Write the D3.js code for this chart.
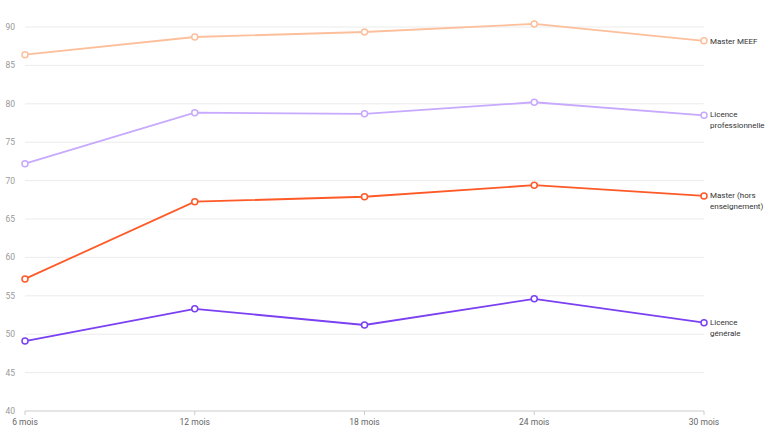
<!DOCTYPE html>
<html><head><meta charset="utf-8">
<script src="https://cdn.jsdelivr.net/npm/d3@7"></script>
<style>body{margin:0;background:#fff}svg{font-family:Roboto,sans-serif}</style>
</head><body><svg id="c" width="768" height="432"></svg>
<script>
const categories = ["6 mois","12 mois","18 mois","24 mois","30 mois"];
const seriesNames = [["Master MEEF"],["Licence","professionnelle"],["Master (hors","enseignement)"],["Licence","générale"]];
const masterMeef = [86.4, 88.7, 89.35, 90.4, 88.2];
const licencePro = [72.2, 78.85, 78.7, 80.2, 78.5];
const masterHors = [57.2, 67.25, 67.9, 69.4, 68.0];
const licenceGen = [49.1, 53.3, 51.2, 54.6, 51.5];
const yTicks = [40,45,50,55,60,65,70,75,80,85,90];
const colors = ["#fdbf9b","#c7a9fd","#fe5a27","#7a40f2"];
const series = [masterMeef, licencePro, masterHors, licenceGen];

const svg = d3.select("#c");
const x = d3.scalePoint().domain(categories).range([25,704]);
const y = d3.scaleLinear().domain([40,90]).range([411,27]);

svg.append("g").selectAll("line").data(yTicks).join("line")
  .attr("x1",25).attr("x2",704).attr("y1",d=>y(d)).attr("y2",d=>y(d))
  .attr("stroke",d=>d===40?"#ccc":"#ebebeb").attr("stroke-width",1);
svg.append("g").selectAll("text").data(yTicks).join("text")
  .attr("x",15).attr("y",d=>y(d)+3).attr("text-anchor","end")
  .attr("font-size",8.5).attr("fill","#999").text(d=>d);
svg.append("g").selectAll("text").data(categories).join("text")
  .attr("x",d=>x(d)).attr("y",425).attr("text-anchor","middle")
  .attr("font-size",8.5).attr("fill","#666").text(d=>d);
svg.append("g").selectAll("line").data(categories).join("line")
  .attr("x1",d=>x(d)).attr("x2",d=>x(d)).attr("y1",411).attr("y2",415).attr("stroke","#ccc");

const line = d3.line().x((d,i)=>x(categories[i])).y(d=>y(d));
series.forEach((s,k)=>{
  svg.append("path").datum(s).attr("d",line).attr("fill","none")
    .attr("stroke",colors[k]).attr("stroke-width",1.8);
  svg.append("g").selectAll("circle").data(s).join("circle")
    .attr("cx",(d,i)=>x(categories[i])).attr("cy",d=>y(d)).attr("r",3)
    .attr("fill","#fff").attr("stroke",colors[k]).attr("stroke-width",1.5);
  const lab = svg.append("text").attr("x",710).attr("font-size",8).attr("fill","#333");
  const n = seriesNames[k].length;
  seriesNames[k].forEach((t,j)=>{
    lab.append("tspan").attr("x",710).attr("y",y(s[4])+3+(n>1?(j*11-1):0)).text(t);
  });
});
</script></body></html>
